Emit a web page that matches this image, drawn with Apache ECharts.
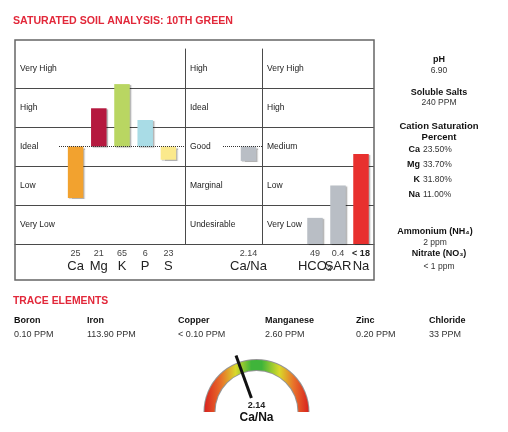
<!DOCTYPE html>
<html><head><meta charset="utf-8">
<script src="https://cdn.jsdelivr.net/npm/echarts@6/dist/echarts.min.js"></script>
<style>html,body{margin:0;padding:0;background:#fff}#c{width:508px;height:432px}</style>
</head><body><div id="c"></div>
<script>
// ---------- data ----------
const titleText = 'SATURATED SOIL ANALYSIS: 10TH GREEN';
const traceTitle = 'TRACE ELEMENTS';
const cationCats = ['Ca', 'Mg', 'K', 'P', 'S'];
const cationVals = ['25', '21', '65', '6', '23'];
const cationLevels = [-1.32, 0.98, 1.6, 0.68, -0.34];
const ratioCats = ['Ca/Na'];
const ratioVals = ['2.14'];
const ratioLevels = [-0.37];
const sodiumCats = ['HCO₃', 'SAR', 'Na'];
const sodiumVals = ['49', '0.4', '< 18'];
const sodiumLevels = [0.67, 1.5, 2.31];
const rows1 = ['Very High', 'High', 'Ideal', 'Low', 'Very Low'];
const rows2 = ['High', 'Ideal', 'Good', 'Marginal', 'Undesirable'];
const rows3 = ['Very High', 'High', 'Medium', 'Low', 'Very Low'];
const traceNames = ['Boron', 'Iron', 'Copper', 'Manganese', 'Zinc', 'Chloride'];
const traceVals = ['0.10 PPM', '113.90 PPM', '< 0.10 PPM', '2.60 PPM', '0.20 PPM', '33 PPM'];
const sideHeads = ['pH', 'Soluble Salts'];
const sideVals = ['6.90', '240 PPM'];
const satTitle = ['Cation Saturation', 'Percent'];
const satEls = ['Ca', 'Mg', 'K', 'Na'];
const satVals = ['23.50%', '33.70%', '31.80%', '11.00%'];
const nHeads = ['Ammonium (NH₄)', 'Nitrate (NO₃)'];
const nVals = ['2 ppm', '< 1 ppm'];
const gaugeName = 'Ca/Na';
const gaugeValue = 2.14;
const gaugeMin = 0, gaugeMax = 5.5;

// ---------- styles ----------
const cationColors = ['#F2A22F', '#B5193F', '#B9D662', '#A9DCE6', '#FBE98C'];
const ratioColors = ['#B9BEC5'];
const sodiumColors = ['#B9BEC5', '#B9BEC5', '#E8302E'];
const FONT = '"Liberation Sans", Arial, sans-serif';
const LINE = '#4a4a4a';

const chart = echarts.init(document.getElementById('c'), null, { renderer: 'canvas' });

const TOP = 49, BOT = 432 - 244;
function grid(left, width) {
  return { left: left, width: width, top: TOP, bottom: BOT, containLabel: false, outerBoundsMode: 'none' };
}
const grids = [grid(15, 170), grid(185, 77), grid(262, 112), grid(64, 116), grid(237, 23), grid(303.5, 69), grid(59, 126), grid(223, 39)];

function rowY(idx, data, showLine) {
  return {
    type: 'category', gridIndex: idx, data: data, inverse: true,
    axisLine: { show: showLine, lineStyle: { color: LINE, width: 1 } },
    axisTick: { show: false },
    axisLabel: { inside: true, margin: 5, fontSize: 8.5, color: '#222', fontFamily: FONT },
    splitLine: { show: true, interval: 0, showMinLine: false, lineStyle: { color: LINE, width: 1 } }
  };
}
function rowX(idx) {
  return {
    type: 'value', gridIndex: idx, min: 0, max: 1,
    axisLine: { show: true, onZero: false, lineStyle: { color: LINE, width: 1 } },
    axisTick: { show: false }, axisLabel: { show: false }, splitLine: { show: false }
  };
}
function catX(idx, cats, vals) {
  return {
    type: 'category', gridIndex: idx, data: cats,
    axisLine: { show: false }, axisTick: { show: false }, splitLine: { show: false },
    axisLabel: {
      interval: 0, margin: 4,
      formatter: function (name, i) {
        const st = name === 'Na' ? 'vb' : 'v';
        return '{' + st + '|' + vals[i] + '}\n{n|' + name + '}';
      },
      rich: {
        v: { fontSize: 9, color: '#444', lineHeight: 11, fontFamily: FONT, align: 'center' },
        vb: { fontSize: 9, color: '#222', fontWeight: 'bold', lineHeight: 11, fontFamily: FONT, align: 'center' },
        n: { fontSize: 13, color: '#222', lineHeight: 14, fontFamily: FONT, align: 'center' }
      }
    }
  };
}
function hiddenVal(idx, min, max) {
  return { type: 'value', gridIndex: idx, min: min, max: max, show: false, splitLine: { show: false } };
}

const barShadow = { shadowColor: 'rgba(0,0,0,0.3)', shadowOffsetX: 1.5, shadowOffsetY: 1, shadowBlur: 1 };
function barSeries(idx, levels, colors) {
  return {
    type: 'bar', xAxisIndex: idx, yAxisIndex: idx, barWidth: 15.5,
    data: levels.map(function (v, i) { return { value: v, itemStyle: Object.assign({ color: colors[i] }, barShadow) }; }),
    z: 3
  };
}
function dotted(idx) {
  return {
    type: 'line', xAxisIndex: idx, yAxisIndex: idx, data: [[0, 0], [1, 0]], symbol: 'none',
    lineStyle: { color: '#333', width: 1, type: [1, 1] }, z: 4, silent: true
  };
}

// text graphics
const g = [];
g.push({ type: 'rect', shape: { x: 15, y: 40, width: 359, height: 240 }, style: { fill: 'none', stroke: '#666', lineWidth: 1.5 }, z: 10 });
function txt(text, x, y, size, bold, color, align) {
  g.push({ type: 'text', x: x, y: y, z: 10, style: { text: text, font: (bold ? 'bold ' : '') + size + 'px ' + FONT, fill: color, align: align || 'center', verticalAlign: 'middle' } });
}
txt(titleText, 13, 21, 10.6, true, '#E2283A', 'left');
txt(traceTitle, 13, 301.5, 10.4, true, '#E2283A', 'left');
const traceX = [14, 87, 178, 265, 356, 429];
traceNames.forEach(function (n, i) {
  txt(n, traceX[i], 321, 9, true, '#111', 'left');
  txt(traceVals[i], traceX[i], 335, 9, false, '#333', 'left');
});
const CX = 439;
txt(sideHeads[0], CX, 60, 9, true, '#111');
txt(sideVals[0], CX, 70.5, 8.5, false, '#333');
txt(sideHeads[1], CX, 93, 9, true, '#111');
txt(sideVals[1], CX, 103, 8.5, false, '#333');
txt(satTitle[0], CX, 126, 9.5, true, '#111');
txt(satTitle[1], CX, 137, 9.5, true, '#111');
satEls.forEach(function (e, i) {
  const y = 150 + i * 15;
  txt(e, 420, y, 9, true, '#111', 'right');
  txt(satVals[i], 423, y, 8.5, false, '#333', 'left');
});
txt(nHeads[0], CX - 4, 231.5, 9, true, '#111');
txt(nVals[0], CX - 4, 242.5, 8.5, false, '#333');
txt(nHeads[1], CX, 253.5, 9, true, '#111');
txt(nVals[1], CX, 266.5, 8.5, false, '#333');

const arcGradient = new echarts.graphic.LinearGradient(0, 0, 1, 0, [
  { offset: 0, color: '#D9231F' }, { offset: 0.16, color: '#E8702A' }, { offset: 0.3, color: '#D9D92A' },
  { offset: 0.45, color: '#3FB43A' }, { offset: 0.55, color: '#3FB43A' }, { offset: 0.72, color: '#D9D92A' },
  { offset: 0.86, color: '#E8702A' }, { offset: 1, color: '#D9231F' }
]);

const gaugeBase = {
  type: 'gauge', center: [256.5, 412], startAngle: 180, endAngle: 0, min: gaugeMin, max: gaugeMax,
  axisTick: { show: false }, splitLine: { show: false }, axisLabel: { show: false }, silent: true
};

const option = {
  animation: false,
  backgroundColor: '#fff',
  grid: grids,
  xAxis: [rowX(0), rowX(1), rowX(2), catX(3, cationCats, cationVals), catX(4, ratioCats, ratioVals), catX(5, sodiumCats, sodiumVals), hiddenVal(6, 0, 1), hiddenVal(7, 0, 1)],
  yAxis: [rowY(0, rows1, false), rowY(1, rows2, true), rowY(2, rows3, true), hiddenVal(3, -2.5, 2.5), hiddenVal(4, -2.5, 2.5), hiddenVal(5, 0, 5), hiddenVal(6, -2.5, 2.5), hiddenVal(7, -2.5, 2.5)],
  series: [
    barSeries(3, cationLevels, cationColors),
    barSeries(4, ratioLevels, ratioColors),
    barSeries(5, sodiumLevels, sodiumColors),
    dotted(6), dotted(7),
    Object.assign({}, gaugeBase, {
      radius: 53, axisLine: { lineStyle: { width: 12, color: [[1, 'rgba(60,60,60,0.55)']] } },
      pointer: { show: false }, anchor: { show: false }, title: { show: false }, detail: { show: false },
      data: [{ value: gaugeValue }]
    }),
    Object.assign({}, gaugeBase, {
      radius: 52, axisLine: { lineStyle: { width: 10, color: [[1, arcGradient]] } },
      pointer: { show: true, icon: 'rect', width: 3, length: 45, offsetCenter: [0, -15], itemStyle: { color: '#111' } },
      anchor: { show: false },
      title: { show: true, offsetCenter: [0, 6], fontSize: 12, fontWeight: 'bold', color: '#111', fontFamily: FONT },
      detail: { show: true, offsetCenter: [0, -6], fontSize: 9, color: '#222', fontFamily: FONT, formatter: function (v) { return v.toFixed(2); } },
      data: [{ value: gaugeValue, name: gaugeName }]
    })
  ],
  graphic: g
};
chart.setOption(option);
</script></body></html>
